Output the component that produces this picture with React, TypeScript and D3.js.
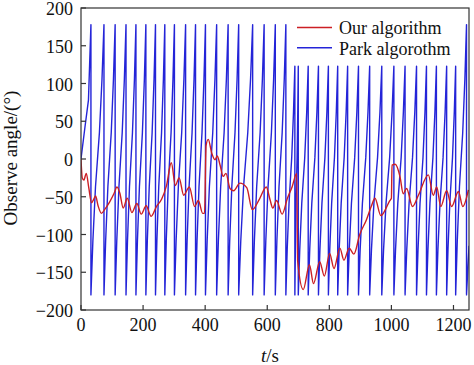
import React from "react";
import * as d3 from "d3";

// ---- Data ----
// "Our algorithm" (red): [t (s), angle (deg)]
const ourT = [0, 4, 9, 17, 25, 34, 40, 47, 55, 66, 76, 92, 106, 116, 125, 136, 149, 164, 180, 194, 210, 226, 243, 260, 275, 291, 304, 316, 331, 349, 366, 378, 392, 398, 403, 410, 421, 432, 439, 448, 458, 467, 480, 492, 512, 534, 552, 575, 597, 609, 618, 630, 648, 665, 680, 695, 698, 716, 736, 749, 769, 784, 801, 815, 834, 847, 864, 879, 898, 920, 935, 947, 966, 995, 1000, 1002, 1012, 1028, 1038, 1049, 1068, 1087, 1119, 1135, 1146, 1159, 1178, 1194, 1216, 1230, 1248];
const ourV = [0, -25, -28, -19, -38, -58, -54, -49, -62, -72, -67, -57, -46, -37, -45, -65, -52, -71, -59, -73, -62, -76, -63, -53, -36, -5, -35, -25, -48, -37, -63, -55, -72, -72, 18, 26, 8, -1, 4, -8, -23, -19, -39, -42, -32, -38, -67, -53, -37, -54, -65, -55, -73, -52, -37, -19, -135, -173, -140, -165, -136, -155, -125, -145, -118, -134, -118, -126, -100, -80, -63, -52, -75, -55, -52, -8, -7, -24, -46, -39, -63, -48, -21, -48, -37, -63, -42, -63, -43, -63, -41];

// "Park algorothm" (blue): wrap times (where the angle peaks and jumps to the bottom) and peak values
const parkWrapT = [32, 74, 110, 145, 177, 209, 240, 270, 301, 337, 369, 401, 437, 474, 508, 553, 590, 626, 660, 689, 700, 732, 765, 797, 827, 859, 894, 930, 969, 1008, 1044, 1081, 1113, 1145, 1178, 1207, 1242];
const parkPeak = [178, 178, 178, 178, 178, 178, 178, 178, 178, 178, 178, 178, 178, 178, 178, 178, 178, 178, 178, 123, 123, 123, 123, 123, 123, 123, 123, 123, 123, 123, 123, 123, 123, 123, 123, 123, 178];
const parkBottom = -180;
// opening partial cycle, and the end of the trace
const parkStartT = [0, 13, 24];
const parkStartV = [0, 43, 78];
const parkEnd: [number, number] = [1250, -115];
// shape of one rising ramp (fraction of cycle -> fraction of swing)
const rampF = [0, 0.15, 0.35, 0.5, 0.65, 0.85, 1];
const rampS = [0, 0.2, 0.4, 0.5, 0.6, 0.8, 1];

const xTicks = [0, 200, 400, 600, 800, 1000, 1200];
const yTicks = [-200, -150, -100, -50, 0, 50, 100, 150, 200];
const legendLabels = ["Our algorithm", "Park algorothm"];

const W = 474;
const H = 365;
const RED = "#cc1f24";
const BLUE = "#2424d8";
const FONT = "'Liberation Serif', 'Times New Roman', serif";

export default function App() {
  const x = d3.scaleLinear().domain([0, 1250]).range([81, 469]);
  const y = d3.scaleLinear().domain([-200, 200]).range([310, 8]);

  const ourPts: [number, number][] = ourT.map((t, i) => [t, ourV[i]]);
  const redPath = d3
    .line<[number, number]>()
    .x((d) => x(d[0]))
    .y((d) => y(d[1]))
    .curve(d3.curveMonotoneX)(ourPts) as string;

  const parkPts: [number, number][] = parkStartT.map((t, i) => [t, parkStartV[i]]);
  parkWrapT.forEach((t, k) => {
    const peak = parkPeak[k];
    if (k > 0) {
      const t0 = parkWrapT[k - 1];
      rampF.forEach((f, j) => {
        if (j === 0) return;
        parkPts.push([t0 + f * (t - t0), parkBottom + rampS[j] * (peak - parkBottom)]);
      });
    } else {
      parkPts.push([t, peak]);
    }
    parkPts.push([t, parkBottom]);
  });
  parkPts.push(parkEnd);
  const bluePath = d3
    .line<[number, number]>()
    .x((d) => x(d[0]))
    .y((d) => y(d[1]))(parkPts) as string;

  return (
    <svg
      width={W}
      height={H}
      style={{ position: "absolute", left: 0, top: 0, background: "#fff" }}
      fontFamily={FONT}
    >
      <defs>
        <clipPath id="plot">
          <rect x={81} y={8} width={388} height={302} />
        </clipPath>
      </defs>
      <g clipPath="url(#plot)">
        <path d={bluePath} fill="none" stroke={BLUE} strokeWidth={1.4} strokeLinejoin="round" />
        <path d={redPath} fill="none" stroke={RED} strokeWidth={1.4} />
      </g>
      {/* frame */}
      <rect x={81} y={8} width={388} height={302} fill="none" stroke="#333" strokeWidth={1.2} />
      {/* y ticks */}
      {yTicks.map((v) => (
        <g key={"y" + v}>
          <line x1={81} x2={86} y1={y(v)} y2={y(v)} stroke="#333" strokeWidth={1.2} />
          <text x={73} y={y(v) + 7} textAnchor="end" fontSize={18} fill="#111">
            {v < 0 ? "\u2212" + Math.abs(v) : String(v)}
          </text>
        </g>
      ))}
      {/* x ticks */}
      {xTicks.map((t) => (
        <g key={"x" + t}>
          <line x1={x(t)} x2={x(t)} y1={310} y2={305} stroke="#333" strokeWidth={1.2} />
          <text x={x(t)} y={331} textAnchor="middle" fontSize={18} fill="#111">
            {t}
          </text>
        </g>
      ))}
      {/* axis labels */}
      <text transform="translate(17,158) rotate(-90)" textAnchor="middle" fontSize={19} fill="#111">
        Observe angle/(°)
      </text>
      <text x={270} y={362} textAnchor="middle" fontSize={19} fill="#111">
        <tspan fontStyle="italic">t</tspan>/s
      </text>
      {/* legend */}
      <line x1={297} x2={332} y1={27.5} y2={27.5} stroke={RED} strokeWidth={1.4} />
      <text x={339} y={33.5} fontSize={18} fill="#111">
        {legendLabels[0]}
      </text>
      <line x1={297} x2={332} y1={47.7} y2={47.7} stroke={BLUE} strokeWidth={1.4} />
      <text x={339} y={54.5} fontSize={18} fill="#111">
        {legendLabels[1]}
      </text>
    </svg>
  );
}
